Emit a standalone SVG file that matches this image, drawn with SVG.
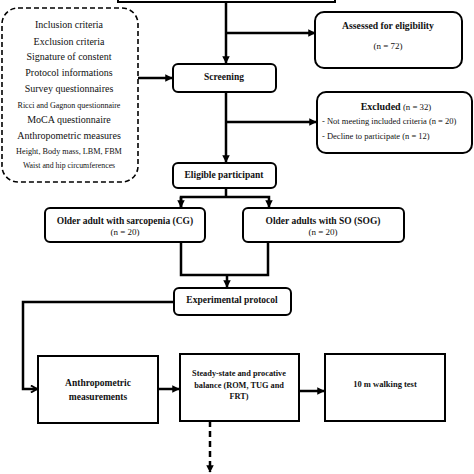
<svg xmlns="http://www.w3.org/2000/svg" width="474" height="474" viewBox="0 0 474 474">
<style>
.box{fill:#fff;stroke:#000;stroke-width:2}
.t{font-family:"Liberation Serif","Times New Roman",serif;fill:#111;text-anchor:middle}
.s{text-anchor:start}
.b{font-weight:bold}
.c{fill:none;stroke:#000;stroke-width:2.5}
</style>
<defs>
<marker id="ah" viewBox="0 0 10 10" refX="9" refY="5" markerWidth="3" markerHeight="3" orient="auto" markerUnits="strokeWidth">
<path d="M0,0 L10,5 L0,10 z" fill="#000"/>
</marker>
<marker id="chev" viewBox="0 0 10 10" refX="8" refY="5" markerWidth="3.5" markerHeight="3.5" orient="auto" markerUnits="strokeWidth">
<path d="M1,1 L8,5 L1,9" fill="none" stroke="#000" stroke-width="2.2"/>
</marker>
</defs>
<rect width="474" height="474" fill="#fff"/>

<g id="connectors">
<path class="c" d="M226,3 V63" marker-end="url(#ah)"/>
<path class="c" d="M226,33 H315" marker-end="url(#ah)"/>
<path class="c" d="M138,78 H172" marker-end="url(#ah)"/>
<path class="c" d="M226,92 V162" marker-end="url(#ah)"/>
<path class="c" d="M226,122 H316" marker-end="url(#ah)"/>
<path class="c" d="M226,188 V197 M181,207 V197 H269 V207" marker-end="url(#ah)"/>
<path class="c" d="M181,197 V207" marker-end="url(#ah)"/>
<path class="c" d="M181,242 V275 H268 V242"/>
<path class="c" d="M227,275 V287" marker-end="url(#ah)"/>
<path class="c" d="M174,302 H23 V389 H37" marker-end="url(#chev)"/>
<path class="c" d="M158,389 H179" marker-end="url(#ah)"/>
<path class="c" d="M299,391 H324" marker-end="url(#ah)"/>
<path class="c" d="M210,421 V472" stroke-dasharray="6,4" marker-end="url(#ah)"/>
</g>

<g id="top-box"><rect class="box" x="118" y="-30" width="217" height="32" stroke-width="2.5"/></g>

<g id="checklist">
<rect x="2" y="8" width="136" height="174" rx="16" fill="#fff" stroke="#000" stroke-width="1.6" stroke-dasharray="5,3"/>
<text class="t" x="69" y="28" font-size="10">Inclusion criteria</text>
<text class="t" x="69" y="45" font-size="10">Exclusion criteria</text>
<text class="t" x="69" y="60" font-size="10">Signature of constent</text>
<text class="t" x="69" y="76" font-size="10">Protocol informations</text>
<text class="t" x="69" y="92" font-size="10">Survey questionnaires</text>
<text class="t" x="69" y="107.5" font-size="8">Ricci and Gagnon questionnaire</text>
<text class="t" x="69" y="123" font-size="10">MoCA questionnaire</text>
<text class="t" x="69" y="139" font-size="10">Anthropometric measures</text>
<text class="t" x="69" y="154" font-size="8.2">Height, Body mass, LBM, FBM</text>
<text class="t" x="69" y="168" font-size="7.8">Waist and hip circumferences</text>
</g>

<g id="screening">
<rect class="box" x="173" y="64" width="103" height="28" rx="5"/>
<text class="t b" x="224" y="80" font-size="9.5">Screening</text>
</g>

<g id="assessed">
<rect class="box" x="315" y="12" width="147" height="56" rx="9"/>
<text class="t b" x="388" y="29" font-size="9.7">Assessed for eligibility</text>
<text class="t" x="388" y="49" font-size="9">(n = 72)</text>
</g>

<g id="excluded">
<rect class="box" x="317" y="92" width="155" height="61" rx="9" stroke-width="2.4"/>
<text class="t" x="396" y="110" font-size="8.8"><tspan font-weight="bold" font-size="10">Excluded</tspan> (n = 32)</text>
<text class="t s" x="322" y="124" font-size="8.5">- Not meeting included criteria  (n = 20)</text>
<text class="t s" x="322" y="139" font-size="8.5">- Decline  to participate (n = 12)</text>
</g>

<g id="eligible">
<rect class="box" x="173" y="163" width="103" height="25" rx="5"/>
<text class="t b" x="224" y="178" font-size="9.5">Eligible participant</text>
</g>

<g id="cg">
<rect class="box" x="45" y="208" width="160" height="34" rx="5"/>
<text class="t b" x="125" y="224" font-size="9.5">Older adult with sarcopenia (CG)</text>
<text class="t" x="125" y="234.5" font-size="9">(n = 20)</text>
</g>

<g id="sog">
<rect class="box" x="243" y="208" width="161" height="34" rx="5"/>
<text class="t b" x="323" y="224" font-size="9.5">Older adults with SO (SOG)</text>
<text class="t" x="323" y="234.5" font-size="9">(n = 20)</text>
</g>

<g id="experimental">
<rect class="box" x="174" y="288" width="117" height="27" rx="5"/>
<text class="t b" x="232" y="303" font-size="9.5">Experimental protocol</text>
</g>

<g id="anthro">
<rect class="box" x="38" y="356" width="120" height="67"/>
<text class="t b" x="98" y="386" font-size="9.5">Anthropometric</text>
<text class="t b" x="98" y="400" font-size="9.5">measurements</text>
</g>

<g id="steady">
<rect class="box" x="180" y="354" width="119" height="67"/>
<text class="t b" x="239" y="376" font-size="8.3">Steady-state and procative</text>
<text class="t b" x="239" y="387.5" font-size="8.3">balance (ROM,  TUG and</text>
<text class="t b" x="239" y="399" font-size="8.3">FRT)</text>
</g>

<g id="walk">
<rect class="box" x="325" y="354" width="120" height="67"/>
<text class="t b" x="385" y="387" font-size="8.5">10 m walking test</text>
</g>
</svg>
